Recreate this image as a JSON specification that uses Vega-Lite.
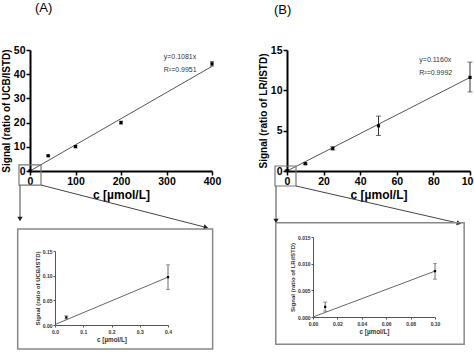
{
  "$schema": "https://vega.github.io/schema/vega-lite/v6.json",
  "background": "white",
  "padding": {"left": 1, "top": 2, "right": 0, "bottom": 0},
  "config": {"view": {"stroke": null}, "font": "Liberation Sans", "axis": {"labelOverlap": false, "labelBound": false, "tickCount": 20}},
  "datasets": {
    "one": [{}],
    "none": [],
    "ptsA": [
      {"c": 0, "s": 0.1, "lo": 0.0, "hi": 0.2},
      {"c": 40, "s": 6.3, "lo": 6.1, "hi": 6.5},
      {"c": 100, "s": 10.1, "lo": 9.6, "hi": 10.6},
      {"c": 200, "s": 20.0, "lo": 19.4, "hi": 20.6},
      {"c": 400, "s": 44.3, "lo": 43.4, "hi": 45.2}
    ],
    "fitA": [{"c": 0, "s": 0}, {"c": 400, "s": 43.24}],
    "ptsB": [
      {"c": 0, "s": 0.05, "lo": 0.0, "hi": 0.1},
      {"c": 10, "s": 0.9, "lo": 0.8, "hi": 1.0},
      {"c": 25, "s": 2.8, "lo": 2.6, "hi": 3.0},
      {"c": 50, "s": 5.6, "lo": 4.4, "hi": 6.8},
      {"c": 100, "s": 11.6, "lo": 9.8, "hi": 13.5}
    ],
    "fitB": [{"c": 0, "s": 0}, {"c": 100, "s": 11.6}],
    "ptsA2": [
      {"c": 0.04, "s": 0.0155, "lo": 0.0125, "hi": 0.0185},
      {"c": 0.4, "s": 0.097, "lo": 0.072, "hi": 0.122}
    ],
    "fitA2": [{"c": 0, "s": 0.001}, {"c": 0.4, "s": 0.097}],
    "ptsB2": [
      {"c": 0.01, "s": 0.0019, "lo": 0.0011, "hi": 0.0028},
      {"c": 0.1, "s": 0.0086, "lo": 0.0071, "hi": 0.0100}
    ],
    "fitB2": [{"c": 0, "s": 0}, {"c": 0.1, "s": 0.0086}]
  },
  "hconcat": [
    {
      "vconcat": [
        {
          "width": 182, "height": 121,
          "title": {"text": "(A)", "anchor": "start", "frame": "group", "dx": 5, "offset": 30, "fontSize": 13, "fontWeight": "normal", "color": "#000"},
          "layer": [
            {
              "data": {"name": "fitA"},
              "mark": {"type": "line", "color": "#555", "strokeWidth": 1},
              "encoding": {
                "x": {"field": "c", "type": "quantitative", "scale": {"domain": [0, 400], "nice": false},
                  "axis": {"values": [0, 100, 200, 300, 400], "tickCount": 20, "title": "c [µmol/L]", "grid": false, "domainColor": "#000", "domainWidth": 2, "tickColor": "#000", "tickWidth": 1.5, "tickSize": 4, "labelFontWeight": "bold", "labelFontSize": 10.5, "labelColor": "#000", "labelPadding": 1, "labelFlush": false, "titleFontSize": 12, "titleFontWeight": "bold", "titlePadding": 3, "titleColor": "#000"}},
                "y": {"field": "s", "type": "quantitative", "scale": {"domain": [0, 50], "nice": false},
                  "axis": {"values": [0, 10, 20, 30, 40, 50], "tickCount": 20, "title": "Signal (ratio of UCB/ISTD)", "grid": false, "domainColor": "#000", "domainWidth": 2, "tickColor": "#000", "tickWidth": 1.5, "tickSize": 4, "labelFontWeight": "bold", "labelFontSize": 10.5, "labelColor": "#000", "labelPadding": 1, "labelFlush": false, "titleFontSize": 10, "titleFontWeight": "bold", "titlePadding": 2, "titleColor": "#000"}}
              }
            },
            {
              "data": {"name": "ptsA"},
              "mark": {"type": "rule", "color": "#333", "strokeWidth": 1},
              "encoding": {"x": {"field": "c", "type": "quantitative"}, "y": {"field": "lo", "type": "quantitative"}, "y2": {"field": "hi"}}
            },
            {
              "data": {"name": "ptsA"},
              "mark": {"type": "tick", "orient": "horizontal", "size": 4, "thickness": 1, "color": "#333"},
              "encoding": {"x": {"field": "c", "type": "quantitative"}, "y": {"field": "lo", "type": "quantitative"}}
            },
            {
              "data": {"name": "ptsA"},
              "mark": {"type": "tick", "orient": "horizontal", "size": 4, "thickness": 1, "color": "#333"},
              "encoding": {"x": {"field": "c", "type": "quantitative"}, "y": {"field": "hi", "type": "quantitative"}}
            },
            {
              "data": {"name": "ptsA"},
              "mark": {"type": "point", "shape": "square", "filled": true, "size": 10, "color": "#000", "opacity": 1},
              "encoding": {"x": {"field": "c", "type": "quantitative"}, "y": {"field": "s", "type": "quantitative"}}
            },
            {
              "data": {"name": "one"},
              "mark": {"type": "text", "text": "y=0.1081x", "align": "left", "baseline": "middle", "fontSize": 7, "color": "#333"},
              "encoding": {"x": {"datum": 294}, "y": {"datum": 47.1}}
            },
            {
              "data": {"name": "one"},
              "mark": {"type": "text", "text": "R²=0.9951", "align": "left", "baseline": "middle", "fontSize": 7, "color": "#333"},
              "encoding": {"x": {"datum": 294}, "y": {"datum": 41.7}}
            },
            {
              "data": {"name": "one"},
              "mark": {"type": "rect", "clip": false, "fill": null, "stroke": "#777", "strokeWidth": 1.2},
              "encoding": {"x": {"datum": -24.2}, "x2": {"datum": 24.2}, "y": {"datum": -5.8}, "y2": {"datum": 2.5}}
            },
            {
              "data": {"name": "one"},
              "mark": {"type": "rule", "clip": false, "color": "#444", "strokeWidth": 1},
              "encoding": {"x": {"datum": -22}, "y": {"datum": -5.8}, "y2": {"datum": -19.8}}
            },
            {
              "data": {"name": "one"},
              "mark": {"type": "point", "clip": false, "shape": "triangle-down", "filled": true, "size": 28, "color": "#222", "opacity": 1},
              "encoding": {"x": {"datum": -22}, "y": {"datum": -19.8}}
            },
            {
              "data": {"name": "one"},
              "mark": {"type": "rule", "clip": false, "color": "#444", "strokeWidth": 1},
              "encoding": {"x": {"datum": 24.2}, "y": {"datum": -5.8}, "x2": {"datum": 386.8}, "y2": {"datum": -23.3}}
            },
            {
              "data": {"name": "one"},
              "mark": {"type": "point", "clip": false, "shape": "triangle-right", "angle": 14.4, "filled": true, "size": 28, "color": "#222", "opacity": 1},
              "encoding": {"x": {"datum": 386.8}, "y": {"datum": -23.3}}
            }
          ]
        },
        {
          "hconcat": [
            {"width": 1, "height": 1, "data": {"name": "none"}, "mark": "point"},
            {
              "width": 113, "height": 74,
              "layer": [
                {
                  "data": {"name": "one"},
                  "mark": {"type": "rect", "clip": false, "fill": null, "stroke": "#888", "strokeWidth": 1.5},
                  "encoding": {"x": {"datum": -0.132}, "x2": {"datum": 0.558}, "y": {"datum": -0.0486}, "y2": {"datum": 0.1946}}
                },
                {
                  "data": {"name": "fitA2"},
                  "mark": {"type": "line", "color": "#666", "strokeWidth": 1},
                  "encoding": {
                    "x": {"field": "c", "type": "quantitative", "scale": {"domain": [0, 0.4], "nice": false},
                      "axis": {"values": [0, 0.1, 0.2, 0.3, 0.4], "tickCount": 20, "format": ".1f", "title": "c [µmol/L]", "grid": false, "domainColor": "#555", "domainWidth": 1, "tickColor": "#555", "tickSize": 2, "labelFontWeight": "bold", "labelFontSize": 5, "labelColor": "#333", "labelPadding": 2, "labelFlush": false, "titleFontSize": 6.3, "titleFontWeight": "bold", "titlePadding": 2, "titleColor": "#333"}},
                    "y": {"field": "s", "type": "quantitative", "scale": {"domain": [0, 0.15], "nice": false},
                      "axis": {"values": [0, 0.05, 0.1, 0.15], "tickCount": 20, "format": ".2f", "title": "Signal (ratio of UCB/ISTD)", "grid": false, "domainColor": "#555", "domainWidth": 1, "tickColor": "#555", "tickSize": 2, "labelFontWeight": "bold", "labelFontSize": 5, "labelColor": "#333", "labelPadding": 1, "labelFlush": false, "titleFontSize": 6, "titleFontWeight": "bold", "titlePadding": 2, "titleColor": "#333"}}
                  }
                },
                {
                  "data": {"name": "ptsA2"},
                  "mark": {"type": "rule", "color": "#444", "strokeWidth": 0.8},
                  "encoding": {"x": {"field": "c", "type": "quantitative"}, "y": {"field": "lo", "type": "quantitative"}, "y2": {"field": "hi"}}
                },
                {
                  "data": {"name": "ptsA2"},
                  "mark": {"type": "tick", "orient": "horizontal", "size": 4, "thickness": 0.8, "color": "#444"},
                  "encoding": {"x": {"field": "c", "type": "quantitative"}, "y": {"field": "lo", "type": "quantitative"}}
                },
                {
                  "data": {"name": "ptsA2"},
                  "mark": {"type": "tick", "orient": "horizontal", "size": 4, "thickness": 0.8, "color": "#444"},
                  "encoding": {"x": {"field": "c", "type": "quantitative"}, "y": {"field": "hi", "type": "quantitative"}}
                },
                {
                  "data": {"name": "ptsA2"},
                  "mark": {"type": "point", "shape": "square", "filled": true, "size": 5, "color": "#000", "opacity": 1},
                  "encoding": {"x": {"field": "c", "type": "quantitative"}, "y": {"field": "s", "type": "quantitative"}}
                }
              ]
            }
          ],
          "spacing": -15
        }
      ],
      "spacing": -2
    },
    {
      "vconcat": [
        {
          "width": 183, "height": 121,
          "title": {"text": "(B)", "anchor": "start", "frame": "group", "dx": -13, "offset": 28, "fontSize": 13, "fontWeight": "normal", "color": "#000"},
          "layer": [
            {
              "data": {"name": "fitB"},
              "mark": {"type": "line", "color": "#555", "strokeWidth": 1},
              "encoding": {
                "x": {"field": "c", "type": "quantitative", "scale": {"domain": [0, 100], "nice": false},
                  "axis": {"values": [0, 20, 40, 60, 80, 100], "tickCount": 20, "title": "c [µmol/L]", "grid": false, "domainColor": "#000", "domainWidth": 2, "tickColor": "#000", "tickWidth": 1.5, "tickSize": 4, "labelFontWeight": "bold", "labelFontSize": 10.5, "labelColor": "#000", "labelPadding": 1, "labelFlush": false, "titleFontSize": 12, "titleFontWeight": "bold", "titlePadding": 3, "titleColor": "#000"}},
                "y": {"field": "s", "type": "quantitative", "scale": {"domain": [0, 15], "nice": false},
                  "axis": {"values": [0, 5, 10, 15], "tickCount": 20, "title": "Signal (ratio of LR/ISTD)", "grid": false, "domainColor": "#000", "domainWidth": 2, "tickColor": "#000", "tickWidth": 1.5, "tickSize": 4, "labelFontWeight": "bold", "labelFontSize": 10.5, "labelColor": "#000", "labelPadding": 1, "labelFlush": false, "titleFontSize": 10, "titleFontWeight": "bold", "titlePadding": 2, "titleColor": "#000"}}
              }
            },
            {
              "data": {"name": "ptsB"},
              "mark": {"type": "rule", "color": "#333", "strokeWidth": 1},
              "encoding": {"x": {"field": "c", "type": "quantitative"}, "y": {"field": "lo", "type": "quantitative"}, "y2": {"field": "hi"}}
            },
            {
              "data": {"name": "ptsB"},
              "mark": {"type": "tick", "orient": "horizontal", "size": 5, "thickness": 1, "color": "#333"},
              "encoding": {"x": {"field": "c", "type": "quantitative"}, "y": {"field": "lo", "type": "quantitative"}}
            },
            {
              "data": {"name": "ptsB"},
              "mark": {"type": "tick", "orient": "horizontal", "size": 5, "thickness": 1, "color": "#333"},
              "encoding": {"x": {"field": "c", "type": "quantitative"}, "y": {"field": "hi", "type": "quantitative"}}
            },
            {
              "data": {"name": "ptsB"},
              "mark": {"type": "point", "shape": "square", "filled": true, "size": 10, "color": "#000", "opacity": 1},
              "encoding": {"x": {"field": "c", "type": "quantitative"}, "y": {"field": "s", "type": "quantitative"}}
            },
            {
              "data": {"name": "one"},
              "mark": {"type": "text", "text": "y=0.1160x", "align": "left", "baseline": "middle", "fontSize": 7, "color": "#333"},
              "encoding": {"x": {"datum": 72.3}, "y": {"datum": 13.7}}
            },
            {
              "data": {"name": "one"},
              "mark": {"type": "text", "text": "R²=0.9992", "align": "left", "baseline": "middle", "fontSize": 7, "color": "#333"},
              "encoding": {"x": {"datum": 72.3}, "y": {"datum": 12.2}}
            },
            {
              "data": {"name": "one"},
              "mark": {"type": "rect", "clip": false, "fill": null, "stroke": "#777", "strokeWidth": 1.2},
              "encoding": {"x": {"datum": -6.56}, "x2": {"datum": 4.92}, "y": {"datum": -1.86}, "y2": {"datum": 0.62}}
            },
            {
              "data": {"name": "one"},
              "mark": {"type": "rule", "clip": false, "color": "#444", "strokeWidth": 1},
              "encoding": {"x": {"datum": -6.0}, "y": {"datum": -1.86}, "y2": {"datum": -6.2}}
            },
            {
              "data": {"name": "one"},
              "mark": {"type": "point", "clip": false, "shape": "triangle-down", "filled": true, "size": 28, "color": "#222", "opacity": 1},
              "encoding": {"x": {"datum": -6.0}, "y": {"datum": -6.2}}
            },
            {
              "data": {"name": "one"},
              "mark": {"type": "rule", "clip": false, "color": "#444", "strokeWidth": 1},
              "encoding": {"x": {"datum": 4.92}, "y": {"datum": -1.86}, "x2": {"datum": 94.0}, "y2": {"datum": -6.48}}
            },
            {
              "data": {"name": "one"},
              "mark": {"type": "point", "clip": false, "shape": "triangle-right", "angle": 12.9, "filled": true, "size": 28, "color": "#222", "opacity": 1},
              "encoding": {"x": {"datum": 94.0}, "y": {"datum": -6.48}}
            }
          ]
        },
        {
          "hconcat": [
            {"width": 1, "height": 1, "data": {"name": "none"}, "mark": "point"},
            {
              "width": 122, "height": 80,
              "layer": [
                {
                  "data": {"name": "one"},
                  "mark": {"type": "rect", "clip": false, "fill": null, "stroke": "#888", "strokeWidth": 1.5},
                  "encoding": {"x": {"datum": -0.0305}, "x2": {"datum": 0.1239}, "y": {"datum": -0.0051}, "y2": {"datum": 0.01767}}
                },
                {
                  "data": {"name": "fitB2"},
                  "mark": {"type": "line", "color": "#666", "strokeWidth": 1},
                  "encoding": {
                    "x": {"field": "c", "type": "quantitative", "scale": {"domain": [0, 0.1], "nice": false},
                      "axis": {"values": [0, 0.02, 0.04, 0.06, 0.08, 0.1], "tickCount": 20, "format": ".2f", "title": "c [µmol/L]", "grid": false, "domainColor": "#555", "domainWidth": 1, "tickColor": "#555", "tickSize": 2, "labelFontWeight": "bold", "labelFontSize": 5, "labelColor": "#333", "labelPadding": 2, "labelFlush": false, "titleFontSize": 6.3, "titleFontWeight": "bold", "titlePadding": 2, "titleColor": "#333"}},
                    "y": {"field": "s", "type": "quantitative", "scale": {"domain": [0, 0.015], "nice": false},
                      "axis": {"values": [0, 0.005, 0.01, 0.015], "tickCount": 20, "format": ".3f", "title": "Signal (ratio of LR/ISTD)", "grid": false, "domainColor": "#555", "domainWidth": 1, "tickColor": "#555", "tickSize": 2, "labelFontWeight": "bold", "labelFontSize": 5, "labelColor": "#333", "labelPadding": 1, "labelFlush": false, "titleFontSize": 6, "titleFontWeight": "bold", "titlePadding": 2, "titleColor": "#333"}}
                  }
                },
                {
                  "data": {"name": "ptsB2"},
                  "mark": {"type": "rule", "color": "#444", "strokeWidth": 0.8},
                  "encoding": {"x": {"field": "c", "type": "quantitative"}, "y": {"field": "lo", "type": "quantitative"}, "y2": {"field": "hi"}}
                },
                {
                  "data": {"name": "ptsB2"},
                  "mark": {"type": "tick", "orient": "horizontal", "size": 4, "thickness": 0.8, "color": "#444"},
                  "encoding": {"x": {"field": "c", "type": "quantitative"}, "y": {"field": "lo", "type": "quantitative"}}
                },
                {
                  "data": {"name": "ptsB2"},
                  "mark": {"type": "tick", "orient": "horizontal", "size": 4, "thickness": 0.8, "color": "#444"},
                  "encoding": {"x": {"field": "c", "type": "quantitative"}, "y": {"field": "hi", "type": "quantitative"}}
                },
                {
                  "data": {"name": "ptsB2"},
                  "mark": {"type": "point", "shape": "square", "filled": true, "size": 5, "color": "#000", "opacity": 1},
                  "encoding": {"x": {"field": "c", "type": "quantitative"}, "y": {"field": "s", "type": "quantitative"}}
                }
              ]
            }
          ],
          "spacing": -13
        }
      ],
      "spacing": -4
    }
  ],
  "spacing": 37
}
